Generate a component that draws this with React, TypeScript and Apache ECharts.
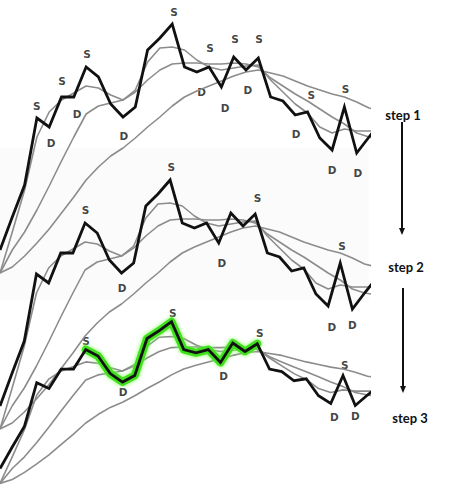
import React, { useEffect, useRef } from "react";
import * as echarts from "echarts";

// price path (level units, higher = up), one value per bar
const priceLine = [50, 83, 115, 182, 173, 203, 203, 233, 223, 196, 183, 193, 250, 262, 276, 233, 228, 233, 213, 243, 230, 242, 203, 199, 185, 188, 162, 150, 193, 147, 163, 178];
// fast moving average
const fastMA = [27, 68, 110, 163, 188, 200, 207, 214, 212, 205, 200, 210, 238, 252, 253, 250, 240, 233, 230, 232, 234, 235, 220, 208, 196, 187, 173, 167, 171, 169, 169, 169];
// medium moving average
const midMA = [27, 50, 68, 90, 114, 139, 163, 186, 194, 197, 200, 208, 220, 230, 236, 237, 237, 236, 236, 237, 236, 233, 222, 214, 206, 199, 191, 183, 176, 167, 163, 161];
// slow moving average
const slowMA = [27, 33, 44, 57, 71, 87, 103, 120, 133, 144, 152, 162, 173, 183, 194, 203, 209, 214, 219, 224, 228, 230, 227, 224, 219, 214, 210, 206, 203, 198, 192, 189];

// S / D annotations [bar position, level]
const sLabelsStep1 = [[3.0, 194], [5.05, 219], [7.07, 246], [14.15, 288], [17.07, 252], [19.1, 261], [21.06, 261], [25.3, 205], [28.1, 211]];
const dLabelsStep1 = [[4.15, 157], [6.26, 186], [10.08, 164], [16.4, 208], [18.3, 192], [20.16, 210], [24.07, 166], [27.0, 130], [29.1, 127]];
const sLabelsLater = [[7.03, 246], [14.1, 289], [21.2, 258], [28.15, 210]];
const dLabelsLater = [[10.04, 168], [18.25, 193], [27.3, 129], [29.0, 131]];

const stepNames = ["step 1", "step 2", "step 3"];
const highlightFrom = 7;
const highlightTo = 21;

const STEP_PX = 12.3;
const CLIP_RIGHT = 369;
const panels = [
  { dx: 0, top: 0, s: sLabelsStep1, d: dLabelsStep1, green: false },
  { dx: -4.5, top: 156, s: sLabelsLater, d: dLabelsLater, green: false },
  { dx: -1.5, top: 306, s: sLabelsLater, d: dLabelsLater, green: true },
];

const pairs = (arr: number[]) => arr.map((v, i) => [i, v]);

export default function App() {
  const ref = useRef<HTMLDivElement>(null);
  useEffect(() => {
    if (!ref.current) return;
    const chart = echarts.init(ref.current, null, { renderer: "svg" });
    const grids: any[] = [];
    const xAxes: any[] = [];
    const yAxes: any[] = [];
    const series: any[] = [];
    const gray = "#8c8c8c";
    panels.forEach((p, k) => {
      const width = CLIP_RIGHT - p.dx;
      grids.push({ left: p.dx, top: p.top, width, height: 300 });
      xAxes.push({ type: "value", gridIndex: k, min: 0, max: width / STEP_PX, show: false });
      yAxes.push({ type: "value", gridIndex: k, min: 0, max: 300, show: false });
      const common = { type: "line", xAxisIndex: k, yAxisIndex: k, symbol: "none", silent: true };
      [slowMA, midMA, fastMA].forEach((arr) => {
        series.push({ ...common, data: pairs(arr), lineStyle: { color: gray, width: 1.6 } });
      });
      if (p.green) {
        const seg = priceLine.map((v, i) => (i >= highlightFrom && i <= highlightTo ? [i, v] : [i, null]));
        series.push({
          ...common,
          data: seg,
          connectNulls: false,
          lineStyle: { color: "#3fe01c", width: 8, shadowBlur: 4, shadowColor: "#7dff55", join: "round", cap: "round" },
        });
      }
      series.push({ ...common, data: pairs(priceLine), lineStyle: { color: "#111", width: 2.8, join: "miter" } });
      const lab = (txt: string) => ({
        show: true,
        formatter: txt,
        position: "inside",
        color: "#111",
        fontWeight: "bold",
        fontSize: 10.5,
        fontFamily: "DejaVu Sans",
      });
      series.push({ type: "scatter", xAxisIndex: k, yAxisIndex: k, data: p.s, symbolSize: 1, itemStyle: { color: "transparent" }, label: lab("S"), silent: true });
      series.push({ type: "scatter", xAxisIndex: k, yAxisIndex: k, data: p.d, symbolSize: 1, itemStyle: { color: "transparent" }, label: lab("D"), silent: true });
    });

    const textPos = [[403, 115], [406, 267], [410, 418]];
    const arrows = [[402, 122, 235], [403, 288, 393]];
    const graphic: any[] = [
      { type: "rect", z: -10, shape: { x: 0, y: 148, width: 369, height: 152 }, style: { fill: "#fbfbfb" } },
    ];
    stepNames.forEach((t, i) => {
      graphic.push({
        type: "text",
        x: textPos[i][0],
        y: textPos[i][1],
        style: { text: t, fill: "#111", font: "bold 13px Lato", align: "center", verticalAlign: "middle" },
      });
    });
    arrows.forEach(([x, y1, y2]) => {
      graphic.push({ type: "line", shape: { x1: x, y1, x2: x, y2: y2 - 5 }, style: { stroke: "#111", lineWidth: 2 } });
      graphic.push({ type: "polygon", shape: { points: [[x - 3, y2 - 7], [x + 3, y2 - 7], [x, y2]] }, style: { fill: "#111" } });
    });

    chart.setOption({
      animation: false,
      backgroundColor: "#ffffff",
      grid: grids,
      xAxis: xAxes,
      yAxis: yAxes,
      series,
      graphic,
    });
    return () => chart.dispose();
  }, []);
  return <div ref={ref} style={{ position: "fixed", left: 0, top: 0, width: 474, height: 501 }} />;
}
